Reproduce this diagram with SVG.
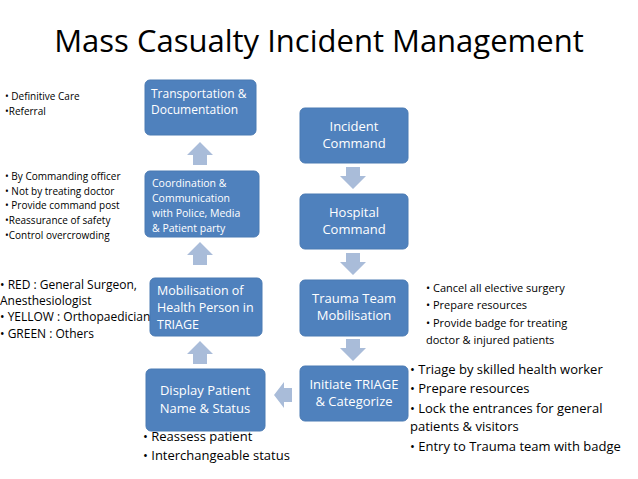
<svg xmlns="http://www.w3.org/2000/svg" width="638" height="479" viewBox="0 0 638 479">
<style>
.box{fill:#4f81bd;stroke:#4a7ab3;stroke-width:1}
.bt{font-family:"Open Sans","Liberation Sans",sans-serif;fill:#fff}
.nt{font-family:"Open Sans","Liberation Sans",sans-serif;fill:#000}
.ar{fill:#a9bcd9}
</style>
<rect width="638" height="479" fill="#fff"/>
<text x="319" y="52" text-anchor="middle" font-family="Open Sans, Liberation Sans, sans-serif" font-size="31" fill="#000">Mass Casualty Incident Management</text>
<g id="connectors">
<polygon class="ar" points="346,167 360,167 360,176 366,176 353,189 340,176 346,176"/>
<polygon class="ar" points="346,253 360,253 360,262 366,262 353,275 340,262 346,262"/>
<polygon class="ar" points="346,339 360,339 360,348 366,348 353,361 340,348 346,348"/>
<polygon class="ar" points="292,388 292,402 284,402 284,408 274,395 284,382 284,388"/>
<polygon class="ar" points="193,364 207,364 207,354 213,354 200,341 187,354 193,354"/>
<polygon class="ar" points="193,265 207,265 207,255 213,255 200,242 187,255 193,255"/>
<polygon class="ar" points="193,165 207,165 207,155 213,155 200,142 187,155 193,155"/>
</g>
<g id="n-transport"><rect class="box" x="145" y="80" width="111" height="55" rx="5"/>
<text class="bt" font-size="12"><tspan x="151" y="98">Transportation &amp;</tspan><tspan x="151" y="114">Documentation</tspan></text></g>
<g id="n-coord"><rect class="box" x="145" y="171" width="114" height="66" rx="5"/>
<text class="bt" font-size="10.5"><tspan x="152" y="187">Coordination &amp;</tspan><tspan x="152" y="202">Communication</tspan><tspan x="152" y="217">with Police, Media</tspan><tspan x="152" y="232">&amp; Patient party</tspan></text></g>
<g id="n-mobil"><rect class="box" x="150" y="278" width="112" height="58" rx="5"/>
<text class="bt" font-size="12.5"><tspan x="157" y="295">Mobilisation of</tspan><tspan x="157" y="312">Health Person in</tspan><tspan x="157" y="329">TRIAGE</tspan></text></g>
<g id="n-display"><rect class="box" x="146" y="369" width="119" height="62" rx="5"/>
<text class="bt" font-size="13" text-anchor="middle"><tspan x="205" y="395">Display Patient</tspan><tspan x="205" y="413">Name &amp; Status</tspan></text></g>
<g id="n-incident"><rect class="box" x="300" y="108" width="108" height="55" rx="5"/>
<text class="bt" font-size="13" text-anchor="middle"><tspan x="354" y="131">Incident</tspan><tspan x="354" y="148">Command</tspan></text></g>
<g id="n-hospital"><rect class="box" x="300" y="194" width="108" height="55" rx="5"/>
<text class="bt" font-size="13" text-anchor="middle"><tspan x="354" y="217">Hospital</tspan><tspan x="354" y="234">Command</tspan></text></g>
<g id="n-trauma"><rect class="box" x="300" y="280" width="108" height="56" rx="5"/>
<text class="bt" font-size="13" text-anchor="middle"><tspan x="354" y="303">Trauma Team</tspan><tspan x="354" y="320">Mobilisation</tspan></text></g>
<g id="n-initiate"><rect class="box" x="300" y="366" width="108" height="55" rx="5"/>
<text class="bt" font-size="13" text-anchor="middle"><tspan x="354" y="389">Initiate TRIAGE</tspan><tspan x="354" y="406">&amp; Categorize</tspan></text></g>
<g id="notes">
<text class="nt" font-size="10"><tspan x="5" y="100">• Definitive Care</tspan><tspan x="5" y="115">•Referral</tspan></text>
<text class="nt" font-size="10"><tspan x="5" y="180">• By Commanding officer</tspan><tspan x="5" y="195">• Not by treating doctor</tspan><tspan x="5" y="209">• Provide command post</tspan><tspan x="5" y="224">•Reassurance of safety</tspan><tspan x="5" y="239">•Control overcrowding</tspan></text>
<text class="nt" font-size="12"><tspan x="0" y="289">• RED : General Surgeon,</tspan><tspan x="0" y="305">Anesthesiologist</tspan><tspan x="0" y="321">• YELLOW : Orthopaedician</tspan><tspan x="0" y="338">• GREEN : Others</tspan></text>
<text class="nt" font-size="11"><tspan x="426" y="292">• Cancel all elective surgery</tspan><tspan x="426" y="309">• Prepare resources</tspan><tspan x="426" y="327">• Provide badge for treating</tspan><tspan x="426" y="344">doctor &amp; injured patients</tspan></text>
<text class="nt" font-size="13"><tspan x="410" y="374">• Triage by skilled health worker</tspan><tspan x="410" y="393">• Prepare resources</tspan><tspan x="410" y="413">• Lock the entrances for general</tspan><tspan x="410" y="431">patients &amp; visitors</tspan><tspan x="410" y="451">• Entry to Trauma team with badge</tspan></text>
<text class="nt" font-size="13"><tspan x="143" y="441">• Reassess patient</tspan><tspan x="143" y="460">• Interchangeable status</tspan></text>
</g>
</svg>
